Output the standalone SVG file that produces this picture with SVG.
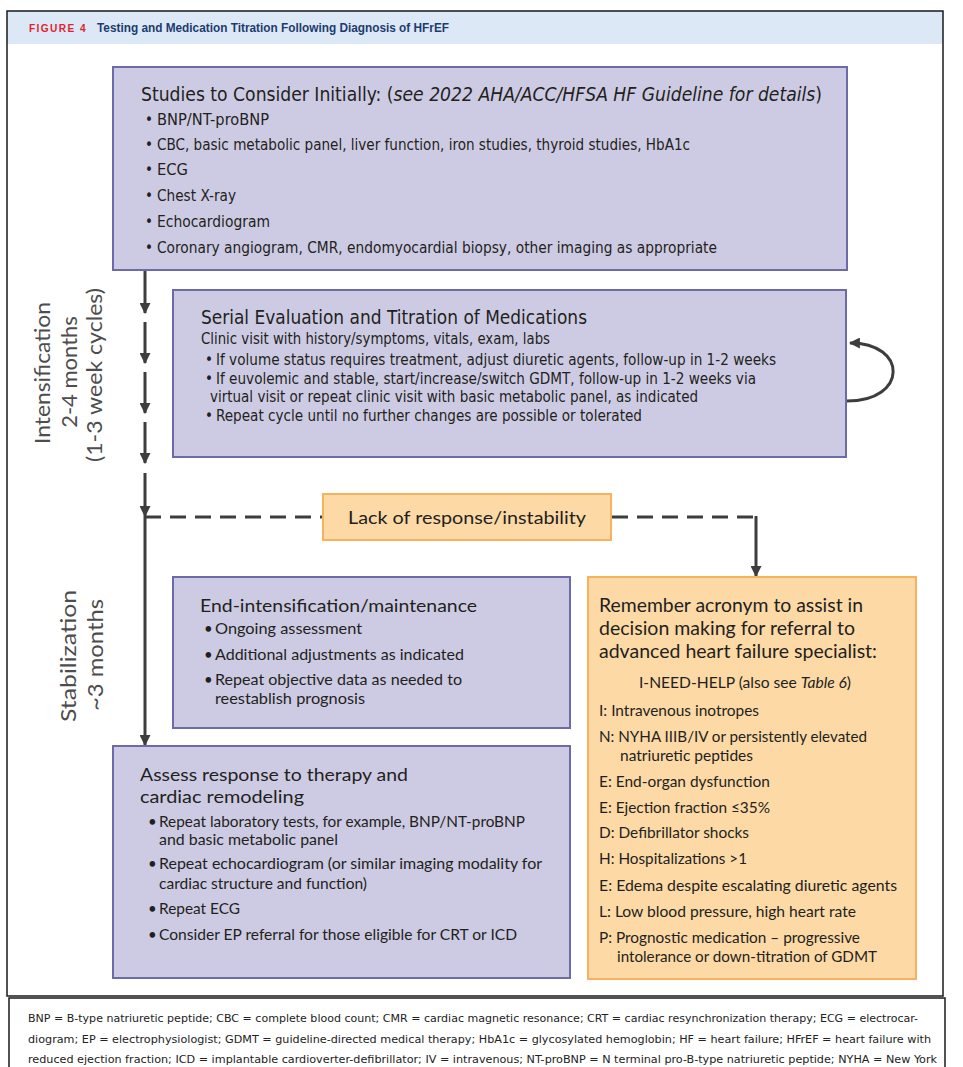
<svg xmlns="http://www.w3.org/2000/svg" width="963" height="1067" viewBox="0 0 963 1067">
<defs>
<style>
.bg{fill:#ffffff}
.frame{fill:none;stroke:#1a1a1a;stroke-width:1.5}
.purple{fill:#cdcbe3;stroke:#6c6aa8;stroke-width:2}
.orange{fill:#fdd9a6;stroke:#f6b35e;stroke-width:2}
.cond{font-family:"Liberation Sans Narrow","DejaVu Sans Condensed","Liberation Sans",sans-serif;fill:#231f20}
.reg{font-family:Lato,"Liberation Sans",sans-serif;fill:#231f20}
.t19{font-size:19px}
.t18{font-size:18px}
.t15{font-size:15px}
.vlab{font-family:Lato,"Liberation Sans",sans-serif;font-size:22px;fill:#4d4d4d}
.conn{fill:none;stroke:#3d3d3d;stroke-width:3}
.dash{stroke-dasharray:16 9}
.foot{font-family:"Liberation Sans Narrow","DejaVu Sans Condensed","Liberation Sans",sans-serif;font-size:11px;fill:#222}
</style>
<marker id="ah" viewBox="0 0 10 10" refX="9" refY="5" markerWidth="11" markerHeight="11" markerUnits="userSpaceOnUse" orient="auto">
<path d="M0,0 L10,5 L0,10 z" fill="#3d3d3d"/>
</marker>
</defs>
<rect class="bg" x="0" y="0" width="963" height="1067"/>

<g id="header">
<rect x="7" y="11" width="936" height="33" fill="#dce8f6"/>
<text x="29" y="32" font-family="Liberation Sans,sans-serif" font-weight="bold" font-size="11" fill="#e0242e" letter-spacing="1.5" textLength="58" lengthAdjust="spacingAndGlyphs">FIGURE 4</text>
<text x="97" y="32" font-family="Liberation Sans Narrow,Liberation Sans,sans-serif" font-weight="bold" font-size="12.5" fill="#1d3c6e" textLength="352" lengthAdjust="spacingAndGlyphs">Testing and Medication Titration Following Diagnosis of HFrEF</text>
</g>
<rect class="frame" x="7" y="11" width="936" height="985"/>

<g id="phase-labels">
<text class="vlab" transform="translate(50,373) rotate(-90)" text-anchor="middle" textLength="142" lengthAdjust="spacingAndGlyphs">Intensification</text>
<text class="vlab" transform="translate(77,372) rotate(-90)" text-anchor="middle">2-4 months</text>
<text class="vlab" transform="translate(102,375) rotate(-90)" text-anchor="middle" textLength="174" lengthAdjust="spacingAndGlyphs">(1-3 week cycles)</text>
<text class="vlab" transform="translate(76,656) rotate(-90)" text-anchor="middle" textLength="132" lengthAdjust="spacingAndGlyphs">Stabilization</text>
<text class="vlab" transform="translate(103,655) rotate(-90)" text-anchor="middle" textLength="112" lengthAdjust="spacingAndGlyphs">~3 months</text>
</g>

<g id="connectors">
<line class="conn" x1="145" y1="271" x2="145" y2="313" marker-end="url(#ah)"/>
<line class="conn" x1="145" y1="322" x2="145" y2="363" marker-end="url(#ah)"/>
<line class="conn" x1="145" y1="372" x2="145" y2="413" marker-end="url(#ah)"/>
<line class="conn" x1="145" y1="422" x2="145" y2="463" marker-end="url(#ah)"/>
<line class="conn" x1="145" y1="473" x2="145" y2="516" marker-end="url(#ah)"/>
<line class="conn" x1="145" y1="516" x2="145" y2="745" marker-end="url(#ah)"/>
<line class="conn dash" x1="145" y1="517" x2="323" y2="517"/>
<polyline class="conn dash" points="612,517 756,517"/>
<line class="conn" x1="756" y1="516" x2="756" y2="576" marker-end="url(#ah)"/>
<path class="conn" d="M847,401 C908,401 908,343 850,343" marker-end="url(#ah)"/>
</g>

<g id="studies">
<rect class="purple" x="113" y="67" width="734" height="203"/>
<text class="cond t19" x="141" y="101" textLength="681" lengthAdjust="spacingAndGlyphs">Studies to Consider Initially: (<tspan font-style="italic">see 2022 AHA/ACC/HFSA HF Guideline for details</tspan>)</text>
<text class="cond t15" x="145" y="125">•</text>
<text class="cond t15" x="157" y="125" textLength="112" lengthAdjust="spacingAndGlyphs">BNP/NT-proBNP</text>
<text class="cond t15" x="145" y="150">•</text>
<text class="cond t15" x="157" y="150" textLength="533" lengthAdjust="spacingAndGlyphs">CBC, basic metabolic panel, liver function, iron studies, thyroid studies, HbA1c</text>
<text class="cond t15" x="145" y="175">•</text>
<text class="cond t15" x="157" y="175" textLength="31" lengthAdjust="spacingAndGlyphs">ECG</text>
<text class="cond t15" x="145" y="201">•</text>
<text class="cond t15" x="157" y="201" textLength="79" lengthAdjust="spacingAndGlyphs">Chest X-ray</text>
<text class="cond t15" x="145" y="227">•</text>
<text class="cond t15" x="157" y="227" textLength="113" lengthAdjust="spacingAndGlyphs">Echocardiogram</text>
<text class="cond t15" x="145" y="253">•</text>
<text class="cond t15" x="157" y="253" textLength="560" lengthAdjust="spacingAndGlyphs">Coronary angiogram, CMR, endomyocardial biopsy, other imaging as appropriate</text>
</g>

<g id="serial">
<rect class="purple" x="173" y="290" width="673" height="167"/>
<text class="cond t19" x="201" y="324" textLength="386" lengthAdjust="spacingAndGlyphs">Serial Evaluation and Titration of Medications</text>
<text class="cond t15" x="201" y="344" textLength="349" lengthAdjust="spacingAndGlyphs">Clinic visit with history/symptoms, vitals, exam, labs</text>
<text class="cond t15" x="205" y="365">•</text>
<text class="cond t15" x="216" y="365" textLength="560" lengthAdjust="spacingAndGlyphs">If volume status requires treatment, adjust diuretic agents, follow-up in 1-2 weeks</text>
<text class="cond t15" x="205" y="384">•</text>
<text class="cond t15" x="216" y="384" textLength="540" lengthAdjust="spacingAndGlyphs">If euvolemic and stable, start/increase/switch GDMT, follow-up in 1-2 weeks via</text>
<text class="cond t15" x="210" y="402" textLength="488" lengthAdjust="spacingAndGlyphs">virtual visit or repeat clinic visit with basic metabolic panel, as indicated</text>
<text class="cond t15" x="205" y="421">•</text>
<text class="cond t15" x="216" y="421" textLength="426" lengthAdjust="spacingAndGlyphs">Repeat cycle until no further changes are possible or tolerated</text>
</g>

<g id="lack">
<rect class="orange" x="323" y="494" width="288" height="46"/>
<text class="reg t18" x="467" y="524" text-anchor="middle" textLength="238" lengthAdjust="spacingAndGlyphs">Lack of response/instability</text>
</g>

<g id="maintenance">
<rect class="purple" x="173" y="577" width="397" height="151"/>
<text class="reg t18" x="200" y="612" textLength="277" lengthAdjust="spacingAndGlyphs">End-intensification/maintenance</text>
<text class="reg t15" x="204" y="634">•</text>
<text class="reg t15" x="215" y="634" textLength="147" lengthAdjust="spacingAndGlyphs">Ongoing assessment</text>
<text class="reg t15" x="204" y="660">•</text>
<text class="reg t15" x="215" y="660" textLength="249" lengthAdjust="spacingAndGlyphs">Additional adjustments as indicated</text>
<text class="reg t15" x="204" y="685">•</text>
<text class="reg t15" x="215" y="685" textLength="247" lengthAdjust="spacingAndGlyphs">Repeat objective data as needed to</text>
<text class="reg t15" x="215" y="704" textLength="150" lengthAdjust="spacingAndGlyphs">reestablish prognosis</text>
</g>

<g id="assess">
<rect class="purple" x="113" y="746" width="457" height="232"/>
<text class="reg t18" x="140" y="781" textLength="268" lengthAdjust="spacingAndGlyphs">Assess response to therapy and</text>
<text class="reg t18" x="140" y="803" textLength="164" lengthAdjust="spacingAndGlyphs">cardiac remodeling</text>
<text class="reg t15" x="148" y="827">•</text>
<text class="reg t15" x="159" y="827" textLength="366" lengthAdjust="spacingAndGlyphs">Repeat laboratory tests, for example, BNP/NT-proBNP</text>
<text class="reg t15" x="159" y="845" textLength="179" lengthAdjust="spacingAndGlyphs">and basic metabolic panel</text>
<text class="reg t15" x="148" y="869">•</text>
<text class="reg t15" x="159" y="869" textLength="383" lengthAdjust="spacingAndGlyphs">Repeat echocardiogram (or similar imaging modality for</text>
<text class="reg t15" x="159" y="889" textLength="208" lengthAdjust="spacingAndGlyphs">cardiac structure and function)</text>
<text class="reg t15" x="148" y="914">•</text>
<text class="reg t15" x="159" y="914" textLength="81" lengthAdjust="spacingAndGlyphs">Repeat ECG</text>
<text class="reg t15" x="148" y="940">•</text>
<text class="reg t15" x="159" y="940" textLength="358" lengthAdjust="spacingAndGlyphs">Consider EP referral for those eligible for CRT or ICD</text>
</g>

<g id="ineedhelp">
<rect class="orange" x="588" y="577" width="328" height="402"/>
<text class="reg t19" x="599" y="612" textLength="264" lengthAdjust="spacingAndGlyphs">Remember acronym to assist in</text>
<text class="reg t19" x="599" y="635" textLength="256" lengthAdjust="spacingAndGlyphs">decision making for referral to</text>
<text class="reg t19" x="599" y="658" textLength="278" lengthAdjust="spacingAndGlyphs">advanced heart failure specialist:</text>
<text class="reg t15" x="639" y="688" textLength="212" lengthAdjust="spacingAndGlyphs">I-NEED-HELP (also see <tspan font-style="italic">Table 6</tspan>)</text>
<text class="reg t15" x="599" y="716" textLength="160" lengthAdjust="spacingAndGlyphs">I: Intravenous inotropes</text>
<text class="reg t15" x="599" y="742" textLength="268" lengthAdjust="spacingAndGlyphs">N: NYHA IIIB/IV or persistently elevated</text>
<text class="reg t15" x="620" y="761" textLength="133" lengthAdjust="spacingAndGlyphs">natriuretic peptides</text>
<text class="reg t15" x="599" y="787" textLength="171" lengthAdjust="spacingAndGlyphs">E: End-organ dysfunction</text>
<text class="reg t15" x="599" y="813" textLength="171" lengthAdjust="spacingAndGlyphs">E: Ejection fraction ≤35%</text>
<text class="reg t15" x="599" y="838" textLength="150" lengthAdjust="spacingAndGlyphs">D: Defibrillator shocks</text>
<text class="reg t15" x="599" y="864" textLength="148" lengthAdjust="spacingAndGlyphs">H: Hospitalizations &gt;1</text>
<text class="reg t15" x="599" y="891" textLength="298" lengthAdjust="spacingAndGlyphs">E: Edema despite escalating diuretic agents</text>
<text class="reg t15" x="599" y="917" textLength="257" lengthAdjust="spacingAndGlyphs">L: Low blood pressure, high heart rate</text>
<text class="reg t15" x="599" y="943" textLength="261" lengthAdjust="spacingAndGlyphs">P: Prognostic medication – progressive</text>
<text class="reg t15" x="617" y="962" textLength="260" lengthAdjust="spacingAndGlyphs">intolerance or down-titration of GDMT</text>
</g>

<g id="footnote">
<rect class="frame" x="9" y="998" width="936" height="90"/>
<text class="foot" x="28" y="1022" textLength="890" lengthAdjust="spacingAndGlyphs">BNP = B-type natriuretic peptide; CBC = complete blood count; CMR = cardiac magnetic resonance; CRT = cardiac resynchronization therapy; ECG = electrocar-</text>
<text class="foot" x="28" y="1043" textLength="903" lengthAdjust="spacingAndGlyphs">diogram; EP = electrophysiologist; GDMT = guideline-directed medical therapy; HbA1c = glycosylated hemoglobin; HF = heart failure; HFrEF = heart failure with</text>
<text class="foot" x="28" y="1063" textLength="909" lengthAdjust="spacingAndGlyphs">reduced ejection fraction; ICD = implantable cardioverter-defibrillator; IV = intravenous; NT-proBNP = N terminal pro-B-type natriuretic peptide; NYHA = New York</text>
</g>
</svg>
